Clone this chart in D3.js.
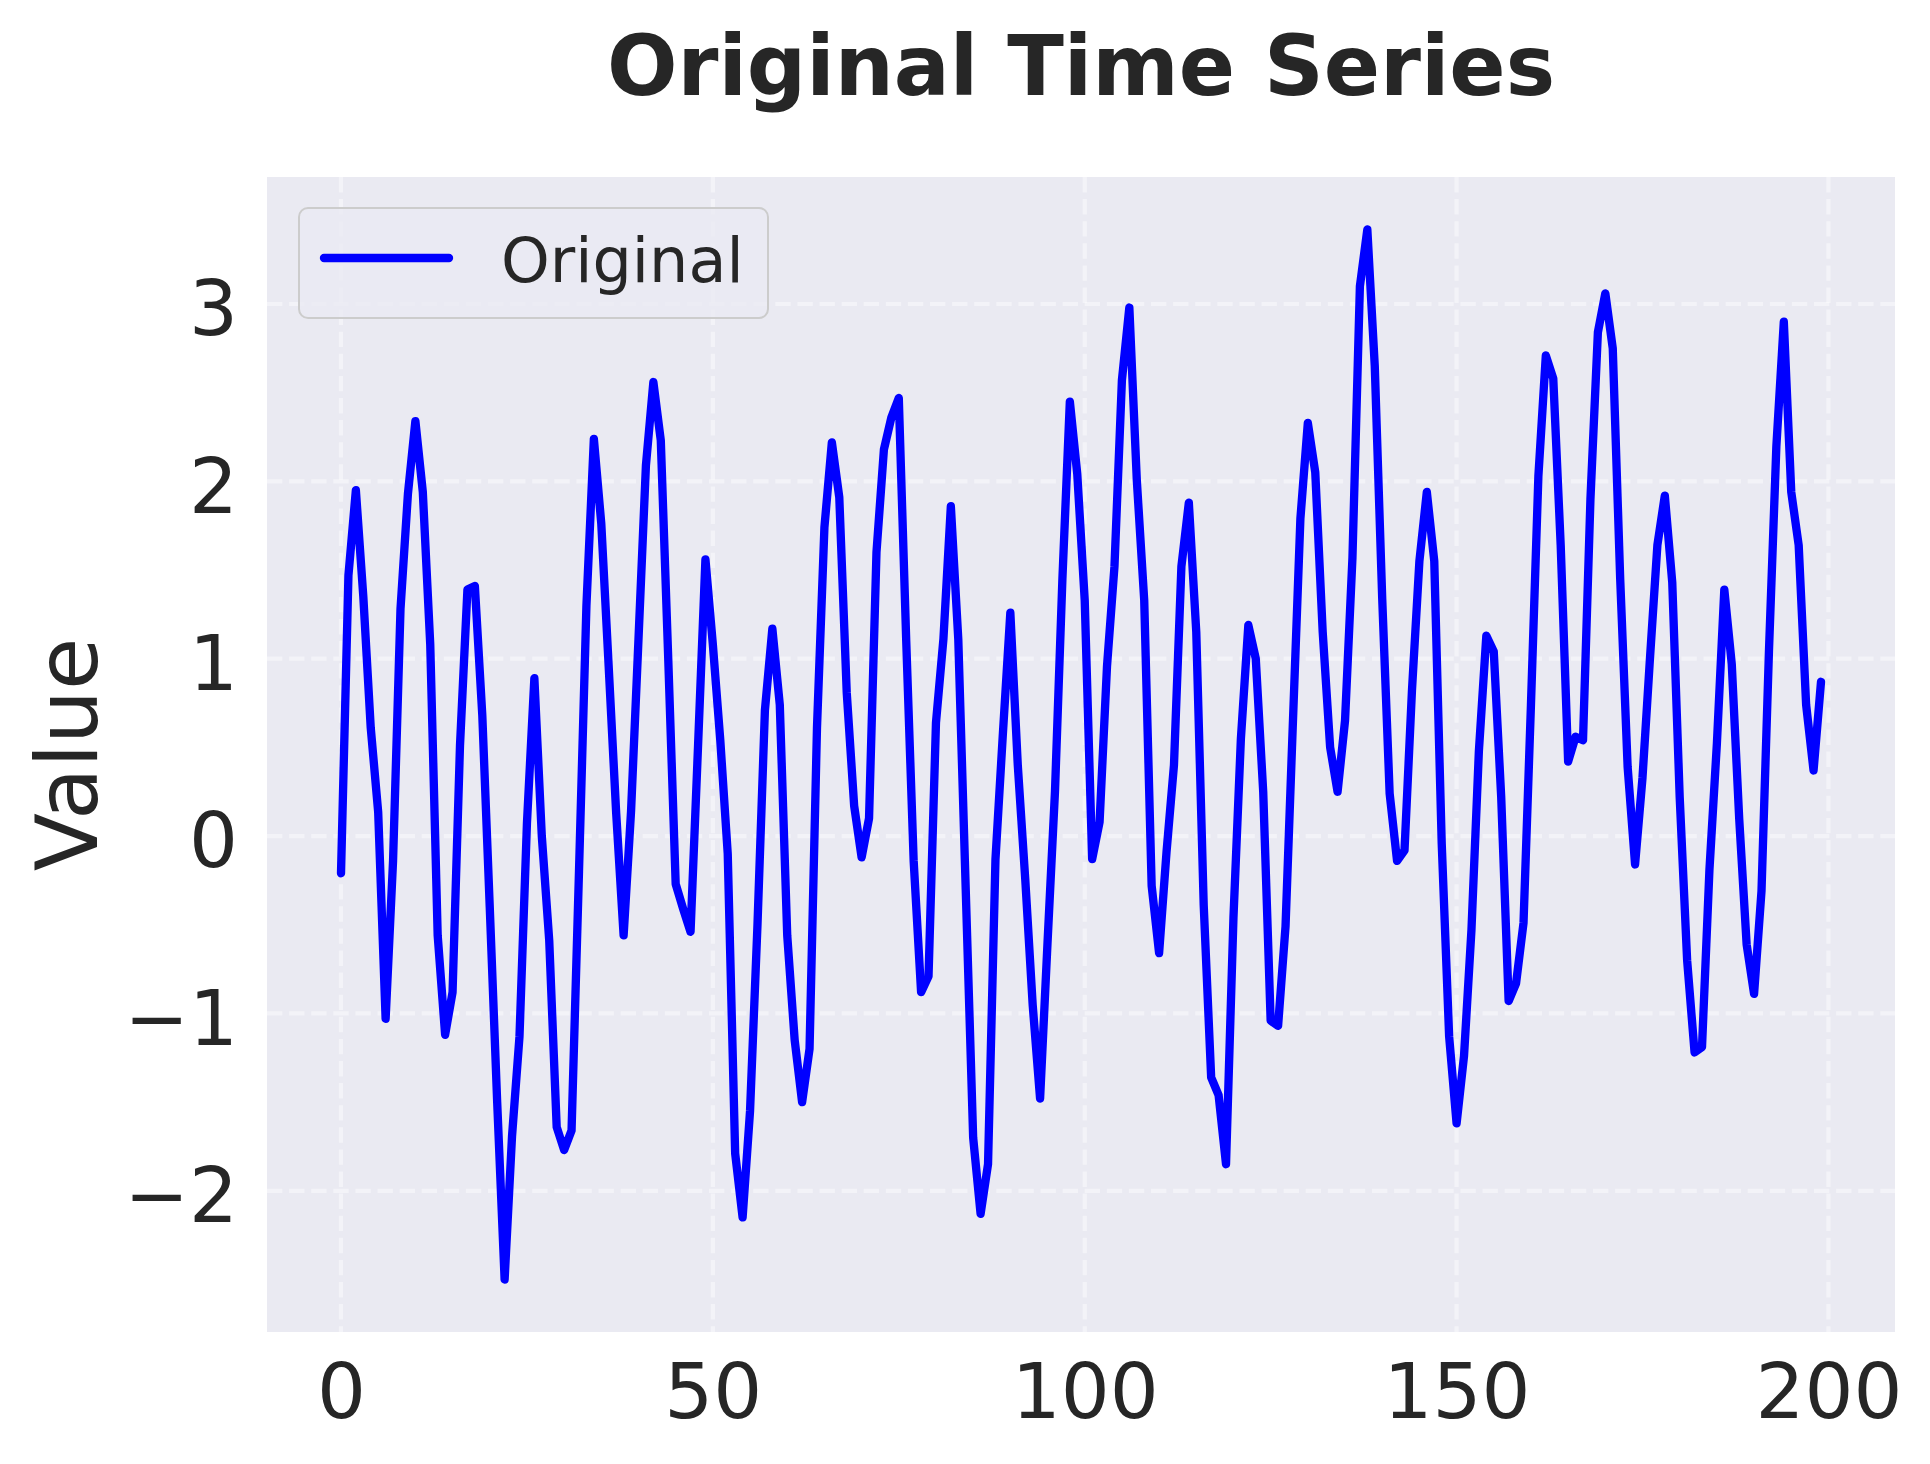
<!DOCTYPE html>
<html>
<head>
<meta charset="utf-8">
<script src="https://cdn.jsdelivr.net/npm/d3@7"></script>
<style>
  body { margin: 0; background: #ffffff; }
  svg { display: block; }
  text { font-family: "DejaVu Sans", sans-serif; fill: #262626; }
</style>
</head>
<body>
<svg id="chart" width="1930" height="1464"></svg>
<script>
// values, one per time step (0..199)
const values = [
  -0.21, 1.47, 1.95, 1.35, 0.61, 0.135, -1.03, -0.14, 1.28, 1.93,
  2.34, 1.94, 1.08, -0.56, -1.12, -0.88, 0.51, 1.39, 1.41, 0.68,
  -0.4, -1.5, -2.5, -1.69, -1.13, 0.07, 0.89, 0.0, -0.59, -1.64,
  -1.77, -1.66, -0.2, 1.3, 2.24, 1.76, 0.95, 0.13, -0.56, 0.14,
  1.11, 2.09, 2.56, 2.23, 1.0, -0.27, -0.41, -0.54, 0.5, 1.56,
  1.08, 0.54, -0.10, -1.79, -2.15, -1.55, -0.5, 0.71, 1.17, 0.74,
  -0.56, -1.15, -1.50, -1.20, 0.61, 1.74, 2.22, 1.91, 0.81, 0.17,
  -0.12, 0.10, 1.60, 2.18, 2.36, 2.47, 1.1, -0.14, -0.88, -0.79,
  0.64, 1.11, 1.86, 1.11, -0.3, -1.70, -2.13, -1.85, -0.13, 0.58,
  1.26, 0.40, -0.24, -0.95, -1.48, -0.6, 0.25, 1.45, 2.45, 2.04,
  1.33, -0.13, 0.08, 0.96, 1.52, 2.57, 2.98, 2.01, 1.33, -0.28,
  -0.66, -0.09, 0.40, 1.52, 1.88, 1.15, -0.39, -1.36, -1.46, -1.85,
  -0.46, 0.55, 1.19, 1.00, 0.25, -1.04, -1.07, -0.51, 0.65, 1.79,
  2.33, 2.05, 1.15, 0.50, 0.25, 0.65, 1.57, 3.10, 3.42, 2.65,
  1.34, 0.24, -0.14, -0.08, 0.82, 1.55, 1.94, 1.55, -0.04, -1.13,
  -1.62, -1.24, -0.53, 0.48, 1.13, 1.04, 0.22, -0.93, -0.83, -0.49,
  0.74, 2.03, 2.71, 2.58, 1.64, 0.42, 0.56, 0.54, 1.90, 2.84,
  3.06, 2.75, 1.45, 0.39, -0.16, 0.33, 1.00, 1.64, 1.92, 1.43,
  0.22, -0.70, -1.22, -1.19, -0.19, 0.52, 1.39, 0.97, 0.10, -0.61,
  -0.89, -0.31, 1.04, 2.20, 2.90, 1.94, 1.64, 0.74, 0.37, 0.87
]
const xTicks = [0, 50, 100, 150, 200]
const yTicks = [-2, -1, 0, 1, 2, 3]
const seriesName = 'Original'
const chartTitle = 'Original Time Series'
const yLabel = 'Value'

const svg = d3.select('#chart')
const margin = { top: 177, right: 35, bottom: 132, left: 267 }
const width = +svg.attr('width')
const height = +svg.attr('height')
const innerWidth = width - margin.left - margin.right
const innerHeight = height - margin.top - margin.bottom

// matplotlib style 5% padding on both axes
const n = values.length - 1
const xPad = n * 0.05
const x = d3.scaleLinear()
  .domain([-xPad, n + xPad])
  .range([margin.left, margin.left + innerWidth])

const [yMin, yMax] = d3.extent(values)
const yPad = (yMax - yMin) * 0.05
const y = d3.scaleLinear()
  .domain([yMin - yPad, yMax + yPad])
  .range([margin.top + innerHeight, margin.top])

const lineWidth = 8.33
const fmt = d3.format('d')

// plot background
svg.append('rect')
  .attr('x', margin.left)
  .attr('y', margin.top)
  .attr('width', innerWidth)
  .attr('height', innerHeight)
  .attr('fill', '#eaeaf2')

// dashed grid
const grid = svg.append('g')
  .attr('stroke', '#ffffff')
  .attr('stroke-opacity', 0.45)
  .attr('stroke-width', 4.2)
  .attr('stroke-dasharray', '15.4,6.7')
grid.selectAll('.vgrid')
  .data(xTicks).join('line')
  .attr('x1', d => x(d)).attr('x2', d => x(d))
  .attr('y1', margin.top).attr('y2', margin.top + innerHeight)
grid.selectAll('.hgrid')
  .data(yTicks).join('line')
  .attr('y1', d => y(d)).attr('y2', d => y(d))
  .attr('x1', margin.left).attr('x2', margin.left + innerWidth)

// axes (no domain line, no tick marks)
const xAxis = svg.append('g')
  .attr('transform', `translate(0,${margin.top + innerHeight})`)
  .call(d3.axisBottom(x).tickValues(xTicks).tickFormat(fmt).tickSize(0).tickPadding(0))
xAxis.select('.domain').remove()
xAxis.selectAll('text')
  .attr('y', 86)
  .attr('dy', null)
  .style('font-size', '77px')
  .style('font-family', '"DejaVu Sans", sans-serif')
  .attr('fill', '#262626')

const yAxis = svg.append('g')
  .attr('transform', `translate(${margin.left},0)`)
  .call(d3.axisLeft(y).tickValues(yTicks).tickFormat(fmt).tickSize(0).tickPadding(0))
yAxis.select('.domain').remove()
yAxis.selectAll('text')
  .attr('x', -29)
  .attr('dy', '0.40em')
  .style('font-size', '77px')
  .style('font-family', '"DejaVu Sans", sans-serif')
  .attr('fill', '#262626')

// the series
const line = d3.line()
  .x((d, i) => x(i))
  .y(d => y(d))
svg.append('path')
  .datum(values)
  .attr('d', line)
  .attr('fill', 'none')
  .attr('stroke', '#0000ff')
  .attr('stroke-width', lineWidth)
  .attr('stroke-linejoin', 'round')
  .attr('stroke-linecap', 'round')

// legend
const legend = svg.append('g').attr('transform', 'translate(299,208)')
legend.append('rect')
  .attr('width', 469)
  .attr('height', 110)
  .attr('rx', 9)
  .attr('fill', '#eaeaf2')
  .attr('fill-opacity', 0.8)
  .attr('stroke', '#cccccc')
  .attr('stroke-width', 2)
legend.append('line')
  .attr('x1', 25).attr('x2', 150)
  .attr('y1', 50).attr('y2', 50)
  .attr('stroke', '#0000ff')
  .attr('stroke-width', lineWidth)
  .attr('stroke-linecap', 'round')
legend.append('text')
  .attr('x', 202)
  .attr('y', 74)
  .style('font-size', '62px')
  .text(seriesName)

// title and axis label
svg.append('text')
  .attr('x', margin.left + innerWidth / 2)
  .attr('y', 95)
  .attr('text-anchor', 'middle')
  .style('font-size', '83px')
  .style('font-weight', 'bold')
  .text(chartTitle)

svg.append('text')
  .attr('transform', `translate(97,${margin.top + innerHeight / 2}) rotate(-90)`)
  .attr('text-anchor', 'middle')
  .style('font-size', '85px')
  .text(yLabel)
</script>
</body>
</html>
